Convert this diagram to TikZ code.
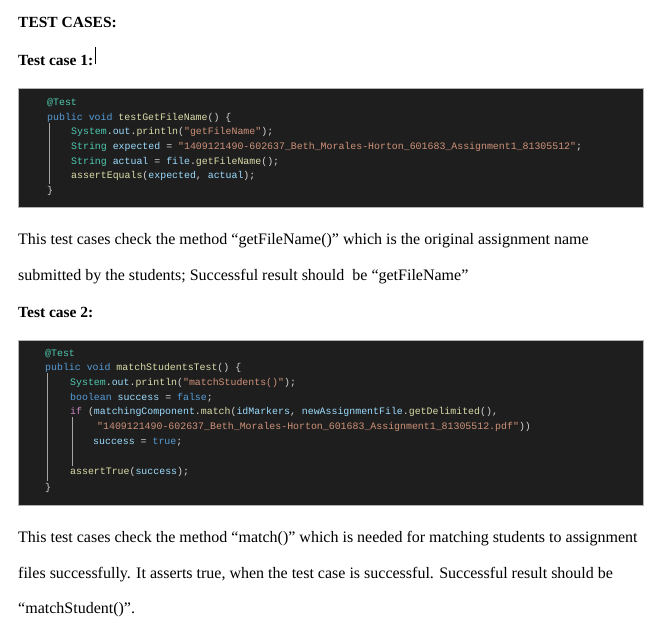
\documentclass[tikz,border=0pt]{standalone}
\usepackage{fontspec}
\setmainfont{Liberation Serif}
\newfontfamily\codefont{Liberation Mono}
\definecolor{codebg}{HTML}{1E1E1E}
\definecolor{kw}{HTML}{569CD6}
\definecolor{ctl}{HTML}{C586C0}
\definecolor{str}{HTML}{CE9178}
\definecolor{fn}{HTML}{DCDCAA}
\definecolor{var}{HTML}{9CDCFE}
\definecolor{cls}{HTML}{4EC9B0}
\definecolor{plain}{HTML}{D4D4D4}
\newcommand{\K}[1]{\textcolor{kw}{#1}}
\newcommand{\Sx}[1]{\textcolor{str}{#1}}
\newcommand{\F}[1]{\textcolor{fn}{#1}}
\newcommand{\V}[1]{\textcolor{var}{#1}}
\newcommand{\C}[1]{\textcolor{cls}{#1}}
\begin{document}
\begin{tikzpicture}[x=1pt,y=-1pt,
  txt/.style={anchor=base west,inner sep=0pt,font=\fontsize{16}{18}\selectfont},
  head/.style={anchor=base west,inner sep=0pt,font=\fontsize{15.5}{17}\selectfont\bfseries},
  code/.style={anchor=base west,inner sep=0pt,text=plain,font=\codefont\fontsize{9.9}{12}\selectfont},
  codebox/.style={fill=codebg,draw=gray!60,line width=0.6pt},
  guide/.style={gray!70,line width=0.4pt}]
\useasboundingbox (0,0) rectangle (663,638);
\node[head] (h0) at (18,27) {TEST CASES:};
\node[head] (h1) at (18,65) {Test case 1:};
\draw[line width=0.8pt] (h1.east)++(2,-13) -- ++(0,17);
\draw[codebox] (18,88) rectangle (643,207);
\draw[guide] (49,123) -- (49,184);
\node[code] (a1) at (47,105) {\C{@Test}};
\node[code] (a2) at (47,120) {\K{public} \K{void} \F{testGetFileName}() \{};
\node[code] (a3) at (71,134) {\C{System}.\V{out}.\F{println}(\Sx{"getFileName"});};
\node[code] (a4) at (71,149) {\C{String} \V{expected} = \Sx{"1409121490-602637\_Beth\_Morales-Horton\_601683\_Assignment1\_81305512"};};
\node[code] (a5) at (71,164) {\C{String} \V{actual} = \V{file}.\F{getFileName}();};
\node[code] (a6) at (71,178) {\F{assertEquals}(\V{expected}, \V{actual});};
\node[code] (a7) at (47,193) {\}};
\node[txt] (p1) at (18,244) {This test cases check the method “getFileName()” which is the original assignment name};
\node[txt] (p2) at (18,280) {submitted by the students; Successful result should\ \ be “getFileName”};
\node[head] (h2) at (18,317) {Test case 2:};
\draw[codebox] (18,340) rectangle (643,505);
\draw[guide] (47,373) -- (47,481);
\draw[guide] (72,417) -- (72,466);
\node[code] (b1) at (45,356) {\C{@Test}};
\node[code] (b2) at (45,370) {\K{public} \K{void} \F{matchStudentsTest}() \{};
\node[code] (b3) at (70,385) {\C{System}.\V{out}.\F{println}(\Sx{"matchStudents()"});};
\node[code] (b4) at (70,400) {\K{boolean} \V{success} = \K{false};};
\node[code] (b5) at (70,414) {\textcolor{ctl}{if} (\V{matchingComponent}.\F{match}(\V{idMarkers}, \V{newAssignmentFile}.\F{getDelimited}(),};
\node[code] (b6) at (97,429) {\Sx{"1409121490-602637\_Beth\_Morales-Horton\_601683\_Assignment1\_81305512.pdf"}))};
\node[code] (b7) at (93,444) {\V{success} = \K{true};};
\node[code] (b8) at (70,474) {\F{assertTrue}(\V{success});};
\node[code] (b9) at (45,490) {\}};
\node[txt] (p3) at (18,542) {This test cases check the method “match()” which is needed for matching students to assignment};
\node[txt] (p4) at (18,578) {files successfully. It asserts true, when the test case is successful. Successful result should be};
\node[txt] (p5) at (18,613) {“matchStudent()”.};
\end{tikzpicture}
\end{document}
